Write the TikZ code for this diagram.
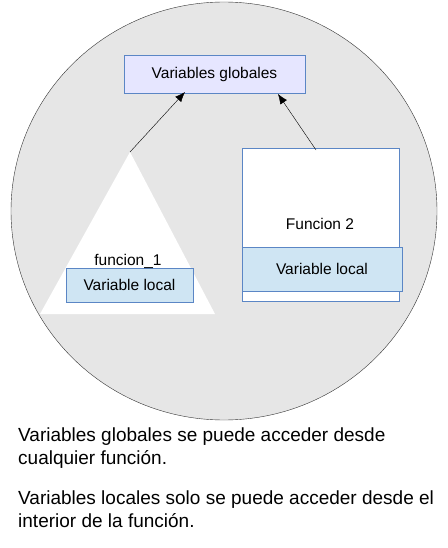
\documentclass[tikz,border=0pt]{standalone}
\usepackage{fontspec}
\setmainfont{Liberation Sans}
\usetikzlibrary{arrows.meta}
\definecolor{scopefill}{HTML}{E6E6E6}
\definecolor{globalfill}{HTML}{E6E6FF}
\definecolor{localfill}{HTML}{CFE5F3}
\definecolor{boxline}{HTML}{5B86C5}
\begin{document}
\begin{tikzpicture}[x=1pt,y=-1pt,
  every node/.style={font=\fontsize{15.5}{18}\selectfont},
  varbox/.style={draw=boxline,rectangle,inner sep=0pt}]
  \useasboundingbox (0,0) rectangle (447,548);

  % program scope
  \draw[draw=black!80,fill=scopefill] (224,211) ellipse [x radius=213, y radius=209];

  \node[varbox,fill=globalfill,minimum width=181pt,minimum height=38pt] (glob) at (214.5,74) {Variables globales};

  % funcion_1
  \fill[white] (130,152) -- (215,314) -- (40,314) -- cycle;
  \coordinate (f1top) at (130,152);
  \node[varbox,fill=localfill,minimum width=127pt,minimum height=34pt] (loc1) at (129.5,285) {Variable local};
  \node[anchor=base] (f1) at (128,265) {funcion\_1};

  % funcion 2
  \node[varbox,fill=white,minimum width=157pt,minimum height=153pt] (f2) at (320.5,224.5) {};
  \node (f2name) at (320,224) {Funcion 2};
  \node[varbox,fill=localfill,minimum width=160pt,minimum height=44pt] (loc2) at (322,269) {Variable local};

  \draw[-{Latex[length=10pt,width=8pt]}] (f1top) -- (185,92);
  \draw[-{Latex[length=10pt,width=8pt]}] (316,150) -- (278,94);

  \node[anchor=north west,align=left,inner sep=0pt,font=\fontsize{19}{23}\selectfont] (note) at (18,428)
    {Variables globales se puede acceder desde\\cualquier función.\\[17pt]
     Variables locales solo se puede acceder desde el\\interior de la función.};
\end{tikzpicture}
\end{document}
